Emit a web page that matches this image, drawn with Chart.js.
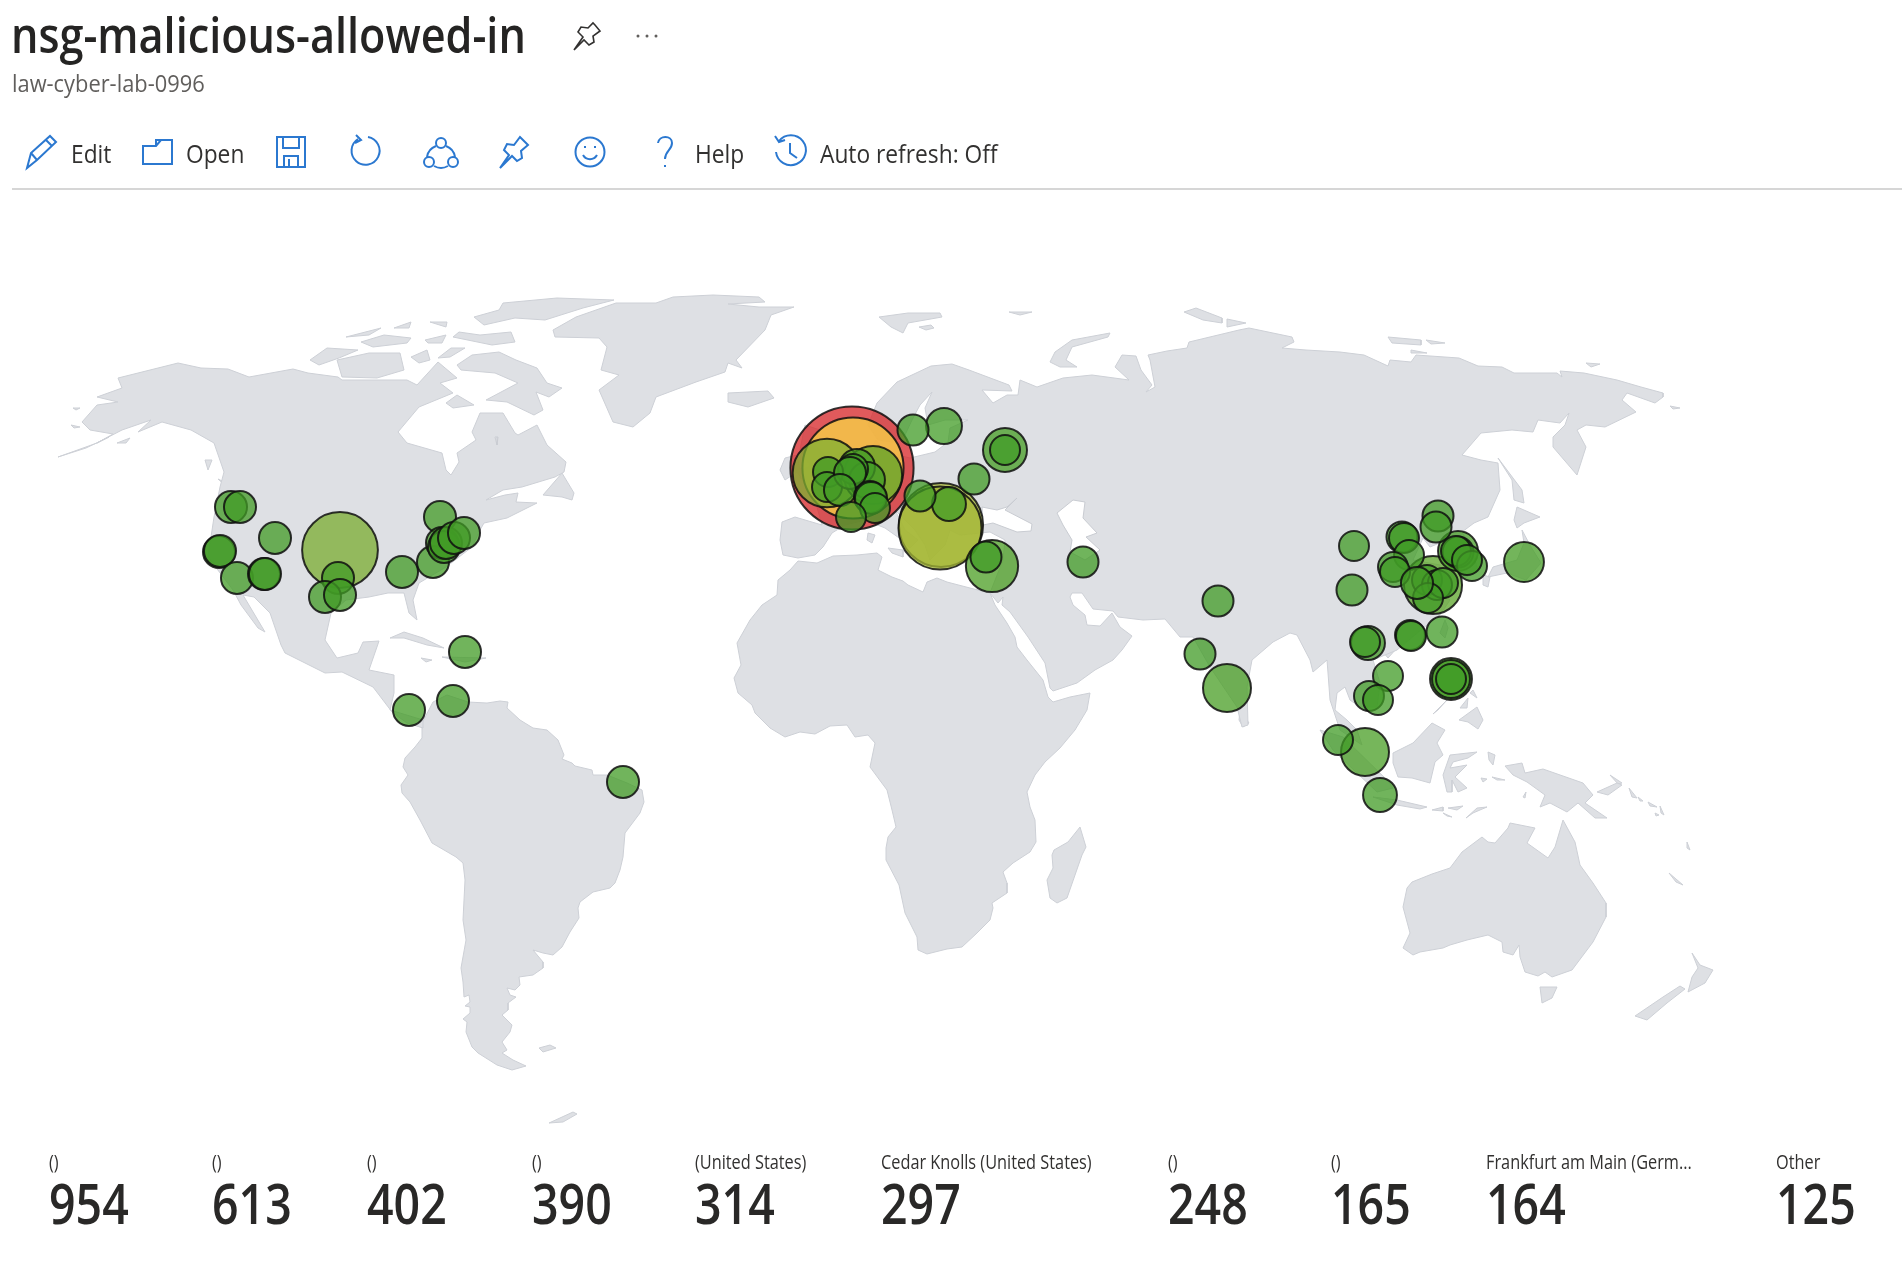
<!DOCTYPE html>
<html>
<head>
<meta charset="utf-8">
<title>nsg-malicious-allowed-in</title>
<script src="https://cdn.jsdelivr.net/npm/chart.js@4/dist/chart.umd.min.js"></script>
<style>
  html, body { margin: 0; background: #fff; width: 1902px; height: 1274px; overflow: hidden; font-family: "Open Sans", sans-serif; }
  #map { position: absolute; left: 0; top: 0; }
  .t { position: absolute; white-space: nowrap; transform-origin: left top; color: #323130; }
  #title { left: 11px; top: 2px; font-size: 48px; font-weight: 600; color: #252423; transform: scaleX(.9); }
  #sub { left: 12px; top: 67px; font-size: 23px; color: #605e5c; transform: scaleX(.95); }
  .tool { top: 136px; font-size: 25px; transform: scaleX(.91); }
  #rule { position: absolute; left: 12px; right: 0; top: 188px; height: 2px; background: #d6d6d6; }
  #icons { position: absolute; left: 0; top: 0; }
  .label { top: 1148px; font-size: 20px; transform: scaleX(.815); color: #323130; }
  .value { top: 1164px; font-size: 56px; font-weight: 600; transform: scaleX(.83); color: #292827; }
</style>
</head>
<body>
<canvas id="map" width="1902" height="1274"></canvas>
<div class="t" id="title">nsg-malicious-allowed-in</div>
<div class="t" id="sub">law-cyber-lab-0996</div>
<div class="t tool" style="left:71px">Edit</div>
<div class="t tool" style="left:186px">Open</div>
<div class="t tool" style="left:695px">Help</div>
<div class="t tool" style="left:820px">Auto refresh: Off</div>
<div id="rule"></div>
<svg id="icons" width="1040" height="190" fill="none" stroke="#2b78d0" stroke-width="2">
  <path stroke="#323130" stroke-width="1.6" d="M574 50l9-13-5-5 3-5 7 1 5-5 2 2 5 6-7 5 1 6-5 3-5-5z"/>
  <g fill="#605e5c" stroke="none"><circle cx="638" cy="36" r="1.5"/><circle cx="647" cy="36" r="1.5"/><circle cx="656" cy="36" r="1.5"/></g>
  <path d="M27 168l4-15 19-17 6 6-19 18zM31 153l6 7M46 140l6 6"/>
  <path d="M143 146h13l5-6h11v24h-29zM156 146v-6h5"/>
  <path d="M277 137h28v30h-28zM283 137v11h16v-11M284 167v-11h14v11M289 159v8"/>
  <path d="M358 139a14 14 0 1 0 10-2M356 135l5 5-6 3"/>
  <circle cx="441" cy="143" r="5"/><circle cx="429" cy="162" r="5"/><circle cx="453" cy="162" r="5"/>
  <path d="M436 146a14 14 0 0 0-9 11M446 146a14 14 0 0 1 9 11M434 166a14 14 0 0 0 14 0"/>
  <path d="M500 168l9-13-5-5 3-6 7 1 6-8 8 8-7 6 1 7-5 3-5-5z"/>
  <circle cx="590" cy="152" r="14.5"/><path d="M583 155a8 8 0 0 0 14 0M584 147h2M594 147h2"/>
  <path d="M658 143c1-8 14-8 14 0 0 7-7 8-7 16M665 165v2"/>
  <path d="M779 141a15 15 0 1 1-3 11M775 136l4 6 6-2M790 143v10l7 5"/>
</svg>

<script>
// land outlines in map units (x east, y south)
const northAmerica = [[58,457],[86,448],[109,437],[97,443],[122,430],[151,420],[138,432],[162,422],[191,430],[214,443],[224,472],[220,487],[214,517],[208,557],[233,590],[241,605],[258,628],[265,632],[243,595],[254,597],[270,613],[281,645],[285,653],[325,673],[342,672],[373,687],[392,712],[407,723],[423,728],[423,720],[390,710],[394,693],[394,675],[369,670],[379,641],[363,642],[358,653],[337,658],[325,640],[331,613],[346,600],[369,597],[388,593],[404,593],[409,613],[417,620],[413,600],[419,583],[446,567],[472,547],[480,530],[484,523],[507,518],[537,503],[516,502],[518,493],[505,495],[486,500],[503,490],[522,487],[555,477],[564,472],[566,462],[547,445],[537,425],[518,435],[515,433],[503,413],[480,413],[472,432],[476,440],[457,453],[459,462],[451,475],[446,470],[442,453],[407,443],[398,432],[419,407],[453,393],[440,383],[457,378],[438,362],[417,385],[407,380],[342,380],[338,377],[308,373],[293,369],[249,377],[228,369],[201,368],[178,363],[118,378],[122,388],[97,397],[118,402],[97,405],[82,422],[90,430],[113,434],[97,443]];
const southAmerica = [[422,723],[433,702],[447,695],[468,702],[487,703],[500,701],[508,702],[507,708],[520,720],[533,728],[547,730],[558,740],[564,755],[562,759],[572,763],[575,766],[592,770],[593,775],[607,775],[627,783],[642,790],[644,802],[640,813],[625,833],[623,857],[620,870],[615,883],[610,888],[593,892],[580,902],[578,908],[579,918],[570,932],[562,947],[553,955],[543,953],[533,950],[543,962],[543,968],[533,975],[519,977],[520,985],[515,990],[507,988],[510,995],[516,997],[508,1003],[508,1010],[502,1015],[512,1025],[510,1032],[502,1042],[507,1050],[502,1053],[513,1060],[526,1066],[512,1070],[497,1065],[478,1053],[472,1047],[466,1032],[467,1022],[463,1019],[470,1013],[470,1007],[465,1006],[470,1002],[469,995],[464,997],[463,982],[461,968],[466,940],[463,920],[465,880],[463,863],[456,857],[432,843],[420,820],[410,802],[402,793],[401,785],[408,775],[403,767],[405,758],[415,747],[422,738]];
const africa = [[798,561],[817,563],[833,556],[857,555],[877,553],[882,557],[878,570],[892,577],[903,581],[908,585],[923,592],[927,582],[937,578],[947,582],[970,588],[990,593],[995,605],[1007,623],[1015,637],[1017,647],[1027,660],[1043,680],[1048,697],[1053,702],[1070,697],[1090,693],[1087,710],[1075,730],[1060,748],[1045,762],[1035,775],[1027,792],[1030,807],[1035,820],[1036,842],[1030,852],[1013,863],[1003,872],[1007,883],[1007,893],[992,903],[993,908],[990,920],[977,933],[962,947],[947,949],[927,954],[918,950],[917,937],[905,913],[899,885],[886,860],[886,848],[888,837],[896,827],[892,810],[887,790],[870,767],[875,743],[868,735],[855,737],[847,725],[830,726],[815,734],[800,732],[785,737],[770,728],[755,713],[752,705],[738,693],[734,678],[741,665],[737,643],[750,620],[762,605],[777,595],[778,580],[790,570]];
const eurasia = [[780,540],[782,522],[795,517],[822,525],[815,500],[796,470],[815,465],[835,455],[850,452],[870,452],[876,440],[885,452],[910,458],[935,452],[948,442],[950,428],[968,420],[945,420],[928,425],[925,408],[932,392],[920,405],[912,420],[905,435],[893,442],[878,440],[868,425],[877,403],[897,382],[931,366],[952,364],[969,370],[1009,385],[1012,391],[982,390],[993,403],[1007,395],[1018,395],[1020,380],[1037,387],[1063,378],[1092,375],[1129,380],[1115,367],[1122,355],[1136,356],[1141,370],[1152,385],[1146,392],[1155,387],[1150,360],[1148,355],[1167,351],[1187,348],[1189,342],[1239,330],[1249,328],[1292,337],[1294,342],[1282,348],[1306,350],[1340,352],[1364,355],[1388,366],[1390,360],[1411,362],[1416,355],[1459,358],[1478,366],[1502,367],[1514,373],[1557,373],[1562,377],[1560,371],[1584,373],[1617,380],[1641,387],[1663,393],[1663,397],[1655,403],[1627,393],[1622,400],[1636,412],[1605,427],[1586,425],[1577,430],[1586,447],[1577,475],[1553,447],[1553,437],[1565,425],[1569,413],[1560,423],[1538,420],[1533,432],[1512,430],[1481,433],[1462,455],[1481,460],[1498,463],[1500,490],[1488,517],[1474,523],[1462,532],[1470,545],[1478,570],[1465,578],[1452,565],[1455,548],[1447,540],[1430,547],[1423,538],[1413,560],[1440,565],[1435,585],[1450,600],[1440,615],[1427,625],[1397,650],[1373,660],[1380,683],[1377,707],[1360,707],[1350,700],[1345,687],[1337,693],[1335,710],[1347,720],[1357,730],[1362,745],[1340,730],[1330,700],[1328,673],[1327,660],[1313,672],[1310,660],[1297,635],[1290,633],[1273,642],[1252,660],[1247,687],[1248,725],[1242,727],[1237,707],[1210,667],[1193,637],[1180,637],[1165,619],[1143,620],[1118,617],[1113,611],[1093,609],[1082,593],[1072,593],[1070,597],[1073,605],[1085,615],[1087,625],[1100,626],[1112,613],[1120,627],[1132,636],[1122,650],[1113,660],[1095,670],[1077,683],[1053,691],[1050,688],[1045,663],[1028,637],[1010,612],[1002,605],[1003,597],[998,603],[990,593],[1003,560],[1005,540],[990,532],[960,535],[950,530],[945,545],[930,560],[925,545],[915,530],[895,510],[905,530],[918,540],[910,548],[902,540],[885,528],[865,520],[845,525],[832,533],[823,547],[815,555],[798,558],[783,555]];
const greenland = [[553,330],[576,317],[616,303],[656,303],[673,297],[713,295],[759,297],[765,302],[728,304],[759,307],[794,307],[771,315],[765,330],[736,360],[742,368],[728,363],[725,372],[696,382],[656,397],[650,413],[633,427],[613,422],[599,390],[619,375],[601,370],[607,347],[599,338],[555,337]];
const australia = [[1403,948],[1410,933],[1403,907],[1407,888],[1412,882],[1432,874],[1450,868],[1462,852],[1482,837],[1488,842],[1495,843],[1508,828],[1510,823],[1535,828],[1527,843],[1548,858],[1555,847],[1563,820],[1575,842],[1580,865],[1593,883],[1606,903],[1606,917],[1593,942],[1572,970],[1552,977],[1545,972],[1538,976],[1525,972],[1520,957],[1519,945],[1513,955],[1503,952],[1502,942],[1488,935],[1467,940],[1450,945],[1443,948],[1420,952],[1413,955]];
const madagascar = [[1080,827],[1086,847],[1082,855],[1067,898],[1057,903],[1050,898],[1047,880],[1053,868],[1052,855],[1054,850],[1068,842]];
const newGuinea = [[1505,766],[1522,763],[1525,773],[1543,769],[1583,783],[1593,795],[1585,803],[1607,818],[1595,818],[1578,803],[1567,812],[1550,803],[1540,807],[1545,795],[1527,782],[1513,775]];
const borneo = [[1393,753],[1413,743],[1432,723],[1445,730],[1437,743],[1443,755],[1435,762],[1430,783],[1412,778],[1398,777],[1393,763]];
const sulawesi = [[1450,755],[1477,752],[1468,758],[1453,762],[1450,768],[1467,765],[1455,777],[1467,788],[1458,792],[1452,780],[1452,792],[1447,792],[1443,775]];
const sumatra = [[1320,730],[1343,737],[1387,780],[1393,788],[1377,792],[1357,773],[1333,750]];
const baffin = [[457,365],[472,355],[499,352],[516,360],[537,368],[547,383],[562,388],[549,397],[536,392],[543,410],[534,415],[507,402],[486,400],[518,383],[495,373],[461,370]];
const ellesmere = [[474,317],[499,310],[503,303],[557,298],[614,300],[583,308],[545,320],[515,318],[484,325]];
const victoriaIsland = [[337,360],[369,353],[400,353],[404,370],[377,378],[342,377]];
const novayaZemlya = [[1110,333],[1072,340],[1055,352],[1050,362],[1060,367],[1077,367],[1066,360],[1072,347],[1108,337]];
const honshu = [[1522,530],[1531,547],[1541,563],[1526,580],[1507,573],[1488,577],[1493,567],[1517,560],[1524,543]];
const hokkaido = [[1517,507],[1540,517],[1524,523],[1517,528],[1514,520]];
const nzSouth = [[1635,1016],[1663,997],[1680,986],[1685,989],[1667,1003],[1647,1020]];
const nzNorth = [[1692,953],[1700,965],[1713,970],[1705,983],[1688,992],[1692,977],[1698,968]];
const smallIslands = [
  [[310,360],[327,348],[358,350],[339,358],[319,365]], [[446,403],[457,395],[474,405],[453,408]],
  [[480,335],[511,332],[515,342],[492,345],[453,337],[459,332]], [[346,337],[381,328],[369,335]],
  [[361,342],[384,335],[411,338],[407,343],[373,347]], [[425,340],[446,335],[442,343],[428,343]],
  [[411,357],[427,350],[430,360],[419,363]], [[438,358],[451,348],[465,348],[450,357]],
  [[430,322],[447,322],[446,327]], [[394,328],[411,322],[409,328]],
  [[543,495],[562,473],[574,493],[572,500],[562,497]], [[390,638],[404,632],[423,638],[444,648],[427,645],[404,638]],
  [[442,657],[486,658],[465,662]], [[421,658],[432,660],[426,662]], [[218,479],[235,487],[228,488]],
  [[205,460],[212,460],[208,470]], [[117,443],[130,438],[126,443]], [[73,408],[80,408],[76,410]], [[71,425],[80,427],[74,428]],
  [[539,1048],[550,1045],[556,1048],[543,1052]], [[549,1123],[573,1112],[577,1114],[563,1122]],
  [[728,393],[768,391],[774,398],[748,407],[728,402]], [[879,317],[908,313],[940,313],[942,317],[908,323],[903,333],[891,327]],
  [[919,327],[931,325],[934,328],[926,330]], [[1009,312],[1032,312],[1020,315]],
  [[1184,312],[1196,308],[1222,318],[1222,323],[1203,320]], [[1227,319],[1246,323],[1227,327]],
  [[1388,337],[1421,340],[1421,345],[1392,343]], [[1426,340],[1445,343],[1431,344]], [[1411,350],[1427,353],[1411,353]],
  [[1586,363],[1600,364],[1591,367]], [[1670,406],[1680,408],[1673,409]], [[1498,458],[1522,490],[1524,503],[1514,500],[1512,480]],
  [[1483,575],[1490,577],[1488,587],[1483,585]], [[1445,620],[1448,628],[1445,638],[1440,633]], [[1383,652],[1397,648],[1388,658]],
  [[1433,714],[1447,700],[1438,710]], [[1460,708],[1468,698],[1467,708]], [[1470,693],[1477,698],[1473,690]],
  [[1459,720],[1477,707],[1483,720],[1478,729],[1468,722]], [[1488,752],[1495,755],[1493,765],[1489,760]],
  [[1492,777],[1505,780],[1497,780]], [[1481,778],[1487,779],[1483,782]], [[1523,797],[1526,792],[1525,798]],
  [[1597,792],[1617,783],[1622,785],[1608,795]], [[1610,775],[1622,783],[1618,784]], [[1629,788],[1637,798],[1632,797]],
  [[1638,797],[1643,801],[1640,801]], [[1648,802],[1657,807],[1650,806]], [[1660,806],[1664,815],[1661,813]],
  [[1655,813],[1659,815],[1656,816]], [[1687,842],[1690,850],[1687,848]], [[1669,873],[1683,885],[1676,882]],
  [[1373,797],[1397,800],[1427,807],[1420,809],[1397,805]], [[1432,810],[1443,807],[1443,811]], [[1448,808],[1463,806],[1457,810]],
  [[1443,813],[1452,817],[1447,816]], [[1466,818],[1477,808],[1487,807],[1473,813]], [[1540,987],[1557,987],[1552,998],[1542,1003]],
  [[1239,720],[1240,710],[1249,723],[1243,727]], [[805,425],[820,430],[815,445],[830,460],[832,475],[810,480],[800,478],[810,465],[800,450]],
  [[785,458],[797,455],[800,470],[785,480],[780,470]], [[868,533],[875,535],[872,543],[867,540]], [[888,548],[903,550],[903,557],[892,553]]
];
// inland water, painted over the land
const hudsonInlets = [[495,437],[498,437],[497,445]];
const blackSea = [[982,507],[997,510],[1007,507],[1017,498],[1005,510],[1032,524],[1031,531],[1017,532],[993,523],[983,525]];
const caspianSea = [[1057,513],[1073,500],[1085,502],[1083,518],[1097,533],[1086,537],[1100,550],[1085,560],[1070,552],[1072,540],[1063,525]];

// one bubble per location, biggest first so that small ones stay on top
const bubbleX = [852,853,941,940,340,827,873,1433,992,1227,1365,1005,1451,1524,1458,1451,944,857,867,1368,1380,949,231,240,275,219,220,237,264,265,338,325,340,402,440,433,442,444,446,454,464,465,409,453,623,853,828,827,850,840,870,871,875,851,913,1005,974,920,986,1083,1218,1200,1354,1352,1438,1436,1402,1404,1409,1393,1395,1458,1456,1472,1467,1427,1437,1443,1428,1417,1365,1410,1411,1442,1388,1369,1378,1451,1338];
const bubbleY = [468,468,525,528,550,473,475,585,566,688,752,450,679,562,551,679,426,467,480,643,795,504,507,507,538,552,551,578,574,574,578,597,595,572,517,562,543,547,543,538,533,652,710,701,782,469,472,487,473,490,497,498,508,517,430,450,479,496,557,562,601,654,546,590,516,527,537,538,555,567,572,552,551,566,560,580,585,583,598,583,642,635,636,632,676,696,700,679,740];
const bubbleHits = [954,613,402,390,314,248,165,164,125,100,100,79,69,60,60,52,44,44,44,37,37,37,31,31,31,31,31,31,31,31,31,31,31,31,31,31,31,31,31,31,31,31,31,31,31,25,25,25,31,31,31,31,25,25,28,25,28,28,28,28,28,28,25,28,28,28,28,25,25,25,25,28,25,25,25,25,25,25,25,31,25,25,25,28,25,25,25,25,25];

// tiles under the map
const tileLabels = ['()', '()', '()', '()', '(United States)', 'Cedar Knolls (United States)', '()', '()', 'Frankfurt am Main (Germ...', 'Other'];
const tileValues = [954, 613, 402, 390, 314, 297, 248, 165, 164, 125];
const tileLeft = [49, 212, 367, 532, 695, 881, 1168, 1331, 1486, 1776];

tileLabels.forEach((label, i) => {
    const l = document.createElement('div');
    l.className = 't label';
    l.style.left = tileLeft[i] + 'px';
    l.textContent = label;
    document.body.appendChild(l);
    const v = document.createElement('div');
    v.className = 't value';
    v.style.left = tileLeft[i] + 'px';
    v.textContent = tileValues[i];
    document.body.appendChild(v);
});

const radiusOf = hits => 6 + 1.8 * Math.sqrt(hits);

// green for few hits, through yellow and orange, red for the most
const heatStops = [[25, [64,155,37]], [125, [75,158,35]], [248, [125,176,50]], [314, [122,172,48]], [390, [164,183,53]], [613, [248,215,70]], [954, [213,35,37]]];
const heatColor = hits => {
    let k = 0;
    while (k < heatStops.length - 2 && hits > heatStops[k + 1][0]) k++;
    const [a, ca] = heatStops[k];
    const [b, cb] = heatStops[k + 1];
    const f = Math.max(0, Math.min(1, (hits - a) / (b - a)));
    const c = ca.map((v, n) => Math.round(v + (cb[n] - v) * f));
    return `rgba(${c[0]},${c[1]},${c[2]},0.75)`;
};

const shape = (outline, fillColor, edge, order) => ({
    type: 'line',
    data: outline.concat([outline[0]]).map(p => ({ x: p[0], y: p[1] })),
    fill: 'shape',
    backgroundColor: fillColor,
    borderColor: edge,
    borderWidth: 1,
    pointRadius: 0,
    tension: 0,
    order: order
});

const land = [northAmerica, southAmerica, africa, eurasia, greenland, australia, madagascar, newGuinea, borneo, sulawesi, sumatra,
    baffin, ellesmere, victoriaIsland, novayaZemlya, honshu, hokkaido, nzSouth, nzNorth].concat(smallIslands);
const water = [hudsonInlets, blackSea, caspianSea];

const map = new Chart(document.getElementById('map').getContext('2d'), {
    type: 'bubble',
    data: {
        datasets: [{
            type: 'bubble',
            data: bubbleHits.map((hits, i) => ({ x: bubbleX[i], y: bubbleY[i], r: radiusOf(hits) })),
            backgroundColor: bubbleHits.map(heatColor),
            borderColor: 'rgba(15,15,15,0.85)',
            borderWidth: 2,
            order: 0
        }]
            .concat(water.map(w => shape(w, '#ffffff', '#c9ccd2', 1)))
            .concat(land.map(l => shape(l, '#dee0e4', '#cdd0d6', 2)))
    },
    options: {
        responsive: false,
        animation: false,
        layout: { padding: 0, autoPadding: false },
        plugins: { legend: { display: false }, tooltip: { enabled: false } },
        scales: {
            x: { type: 'linear', min: 0, max: 1902, display: false },
            y: { type: 'linear', min: 0, max: 1274, reverse: true, display: false }
        }
    }
});
</script>
</body>
</html>
